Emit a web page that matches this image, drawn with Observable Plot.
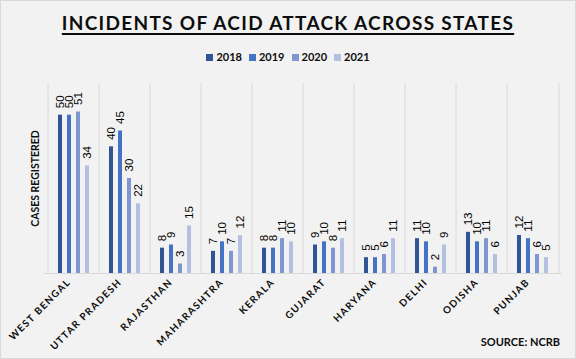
<!DOCTYPE html>
<html><head><meta charset="utf-8">
<script src="https://cdn.jsdelivr.net/npm/d3@7"></script>
<script src="https://cdn.jsdelivr.net/npm/@observablehq/plot@0.6"></script>
<style>
body{margin:0;background:#f2f2f2;}
#chart{position:relative;width:576px;height:359px;background:#f2f2f2;overflow:hidden;font-family:Lato,"Liberation Sans",sans-serif;outline:1px solid #d9d9d9;outline-offset:-1px;}
#title{position:absolute;left:0;width:576px;top:13px;text-align:center;font-weight:bold;font-size:19px;line-height:20px;letter-spacing:1.3px;color:#0d0d0d;}
#title span{text-decoration:underline;text-decoration-thickness:1.5px;text-underline-offset:3px;}
#legend{position:absolute;top:50px;left:0;width:576px;display:flex;justify-content:center;gap:7px;font-weight:bold;font-size:11px;line-height:14px;color:#0d0d0d;}
#legend .it{display:flex;align-items:center;gap:3px;}
#legend .sw{width:7px;height:7px;display:inline-block;}
#plot{position:absolute;left:0;top:75px;}
#source{position:absolute;right:16px;top:335px;font-weight:bold;font-size:11px;color:#0d0d0d;}
#plot g[aria-label="x-axis tick label"]{letter-spacing:1.3px;}
</style>
</head><body>
<div id="chart">
  <div id="title"><span>INCIDENTS OF ACID ATTACK ACROSS STATES</span></div>
  <div id="legend"></div>
  <div id="plot"></div>
  <div id="source">SOURCE: NCRB</div>
</div>
<script>
const states = ["WEST BENGAL","UTTAR PRADESH","RAJASTHAN","MAHARASHTRA","KERALA","GUJARAT","HARYANA","DELHI","ODISHA","PUNJAB"];
const years = ["2018","2019","2020","2021"];
const v2018 = [50,40,8,7,8,9,5,11,13,12];
const v2019 = [50,45,9,10,8,10,5,10,10,11];
const v2020 = [51,30,3,7,11,8,6,2,11,6];
const v2021 = [34,22,15,12,10,11,11,9,6,5];
const colors = ["#2f5597","#4472c4","#7f96d1","#b4c0e2"];
const series = [v2018, v2019, v2020, v2021];

const legend = document.getElementById("legend");
years.forEach((y, j) => {
  const it = document.createElement("div"); it.className = "it";
  const sw = document.createElement("span"); sw.className = "sw"; sw.style.background = colors[j];
  const t = document.createElement("span"); t.textContent = y;
  it.append(sw, t); legend.append(it);
});

const W = 576, H = 284, mL = 44, mR = 14, mT = 8, mB = 86;
const bw = (W - mL - mR) / states.length;
const barW = 4.8, step = 9;
const start = (bw - (3 * step + barW)) / 2;

const rows = states.flatMap((s, i) => years.map((y, j) => ({state: s, year: y, value: series[j][i]})));

const marks = [
  Plot.ruleX(states, {x: d => d, dx: -bw / 2, stroke: "#d9d9d9", strokeWidth: 1}),
  Plot.ruleX([states[states.length - 1]], {x: d => d, dx: bw / 2, stroke: "#d9d9d9", strokeWidth: 1}),
  Plot.ruleY([0], {stroke: "#d9d9d9", strokeWidth: 1})
];
years.forEach((y, j) => {
  const data = rows.filter(d => d.year === y);
  const left = start + j * step;
  marks.push(Plot.barY(data, {x: "state", y: "value", fill: colors[j], insetLeft: left, insetRight: bw - left - barW}));
  marks.push(Plot.text(data, {x: "state", y: "value", text: d => String(d.value), rotate: -90, textAnchor: "start", dx: left + barW / 2 - bw / 2, dy: -7, fontSize: 11.5, fill: "#000", fontFamily: "Liberation Sans"}));
});
marks.push(Plot.axisX({tickSize: 0, tickPadding: 6, tickRotate: -45, dx: -5, dy: 1, fontWeight: "bold", fontSize: 9.8, fill: "#0d0d0d", label: null, fontFamily: "Lato"}));
marks.push(Plot.text(["CASES REGISTERED"], {frameAnchor: "left", rotate: -90, dx: -9, textAnchor: "middle", fontWeight: "bold", fontSize: 10.5, fill: "#0d0d0d", fontFamily: "Lato", text: d => d}));

const chart = Plot.plot({
  width: W, height: H,
  marginLeft: mL, marginRight: mR, marginTop: mT, marginBottom: mB,
  style: {background: "transparent", overflow: "visible"},
  x: {domain: states, padding: 0, axis: null},
  y: {domain: [0, 60], axis: null},
  marks
});
document.getElementById("plot").append(chart);
</script>
</body></html>
